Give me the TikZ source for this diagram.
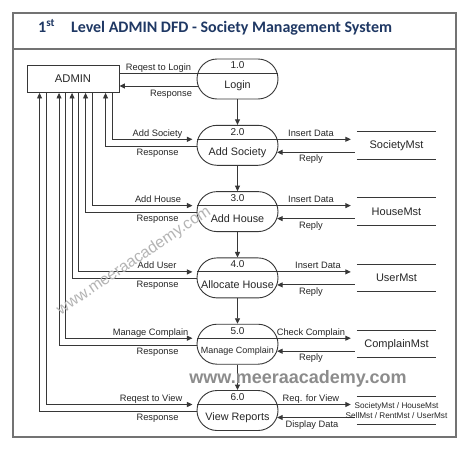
\documentclass[tikz,border=0pt]{standalone}
\usepackage{fontspec}
\setmainfont{Liberation Sans}
\newfontfamily\titlefont{Carlito}
\usetikzlibrary{calc,arrows.meta}
\definecolor{ln}{RGB}{55,55,55}
\definecolor{fr}{RGB}{115,115,115}
\definecolor{ttl}{RGB}{31,56,100}
\definecolor{wmA}{RGB}{140,140,140}
\definecolor{wmB}{RGB}{180,180,180}
\begin{document}
\begin{tikzpicture}[x=1pt,y=-1pt,
  line/.style={draw=ln, line width=0.9pt},
  arr/.style={line, -{Triangle[length=5.5pt,width=5pt]}},
  proc/.style={draw=ln, line width=0.9pt, rounded corners=20pt, minimum width=81pt, minimum height=40pt, inner sep=0pt},
  num/.style={font=\fontsize{10}{10}\selectfont, inner sep=0pt, text=black!85},
  pname/.style={font=\fontsize{10.8}{11}\selectfont, inner sep=0pt, text=black!85},
  store/.style={minimum width=79pt, minimum height=27pt, inner sep=0pt},
  sname/.style={font=\fontsize{11}{11}\selectfont, inner sep=0pt, text=black!85},
  lbl/.style={font=\fontsize{9.3}{10}\selectfont, inner sep=0pt, anchor=base, text=black!85},
  box/.style={draw=ln, line width=0.9pt, minimum width=92pt, minimum height=27pt, inner sep=0pt, font=\fontsize{11.2}{11}\selectfont, text=black!85}
]
\useasboundingbox (0,0) rectangle (469,450);
\fill[white] (0,0) rectangle (469,450);
% frame and title
\draw[fr, line width=1.1pt] (13,13) rectangle (456,437);
\draw[fr, line width=1.1pt] (13,49) -- (456,49);
\node[anchor=base west, inner sep=0pt, text=ttl, font=\titlefont\bfseries\fontsize{16}{16}\selectfont] (title) at (38,32.5) {1\textsuperscript{st}\quad Level ADMIN DFD - Society Management System};

% ADMIN
\node[box] (admin) at (73,79) {ADMIN};

% processes
\foreach \i/\y/\n/\t in {1/79/1.0/Login, 2/145.3/2.0/Add Society, 3/211.6/3.0/Add House, 4/277.9/4.0/Allocate House, 5/344.2/5.0/{}, 6/410.5/6.0/View Reports}{
  \node[proc] (p\i) at (237.5,\y) {};
  \draw[line] ($(p\i.west)+(0.9,-6)$) -- ($(p\i.east)+(-0.9,-6)$);
  \node[num] (p\i n) at ($(p\i.north)+(0,7)$) {\n};
  \node[pname] (p\i t) at ($(p\i.center)+(0,7)$) {\t};
}
\node[pname, font=\fontsize{9}{9}\selectfont] (p5t2) at ($(p5.center)+(0,7)$) {Manage Complain};

% flow between processes
\foreach \a/\b in {1/2,2/3,3/4,4/5,5/6}{
  \draw[arr] (p\a.south) -- (p\b.north);
}

% Login flows
\draw[line] ($(admin.east)+(0,-6)$) -- ($(p1.west)+(0.9,-6)$);
\draw[arr] ($(p1.west)+(1.3,7)$) -- ($(admin.east)+(0,7)$);
\node[lbl] (l1a) at (158.5,70) {Reqest to Login};
\node[lbl] (l1b) at (171,96.5) {Response};

% ADMIN <-> processes 2..6
\foreach \i/\dr/\ds/\ta/\xa in {2/85.5/79/Add Society/158, 3/65.5/59/Add House/158.5, 4/52/45.5/Add User/157.5, 5/39/32.5/Manage Complain/151, 6/19.5/13/Reqest to View/151.5}{
  \draw[arr, shorten >=5pt] ($(admin.south west)+(\dr,0)$) |- ($(p\i.west)+(0.9,-6)$);
  \draw[arr] ($(p\i.west)+(0,1)$) -| ($(admin.south west)+(\ds,0)$);
  \node[lbl] (r\i) at ($(p\i.west)+(\xa-197,-9)$) {\ta};
  \node[lbl] (s\i) at ($(p\i.west)+(-39,10)$) {Response};
}

% data stores
\foreach \i/\t in {2/SocietyMst, 3/HouseMst, 4/UserMst, 5/ComplainMst, 6/{}}{
  \path let \p1 = (p\i.center) in node[store] (d\i) at (396.5,\y1) {};
  \draw[line] (d\i.north west) -- (d\i.north east);
  \draw[line] (d\i.south west) -- (d\i.south east);
  \node[sname] (d\i t) at (d\i.center) {\t};
  \draw[arr, shorten >=6pt] ($(p\i.east)+(-0.9,-6)$) -- ($(d\i.west)+(0,-6)$);
  \draw[arr] ($(d\i.west)+(-2,7)$) -- ($(p\i.east)+(-1.3,7)$);
}
\node[font=\fontsize{8.2}{10}\selectfont, align=center, inner sep=0pt, text=black!85] (d6x) at ($(d6.center)+(0,0)$) {SocietyMst / HouseMst\\SellMst / RentMst / UserMst};

% store labels
\node[lbl] (i2) at ($(p2.east)+(32.5,-9)$) {Insert Data};
\node[lbl] (i3) at ($(p3.east)+(32.5,-9)$) {Insert Data};
\node[lbl] (i4) at ($(p4.east)+(39.5,-9)$) {Insert Data};
\node[lbl] (i5) at ($(p5.east)+(32.5,-9)$) {Check Complain};
\node[lbl] (i6) at ($(p6.east)+(32.5,-9)$) {Req. for View};
\foreach \i in {2,3,4,5}{
  \node[lbl] (y\i) at ($(p\i.east)+(32.5,16.5)$) {Reply};
}
\node[lbl] (y6) at ($(p6.east)+(33.5,16.5)$) {Display Data};

% watermarks
\node[text=wmA, font=\bfseries\fontsize{18}{18}\selectfont, inner sep=0pt] (wm1) at (298,379) {www.meeraacademy.com};
\node[text=wmB, rotate=34, font=\fontsize{16}{16}\selectfont, inner sep=0pt] (wm2) at (134,261) {www.meeraacademy.com};
\end{tikzpicture}
\end{document}
